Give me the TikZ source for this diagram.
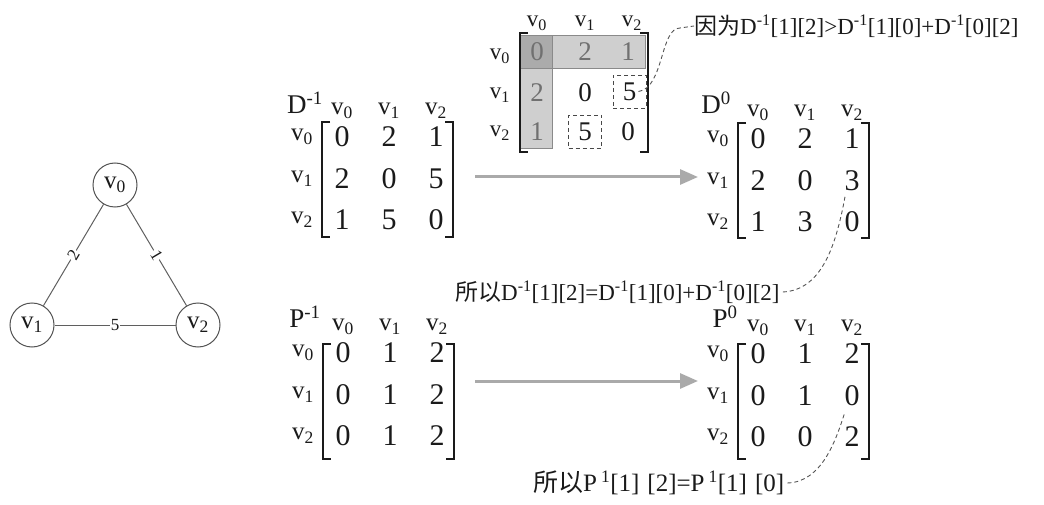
\documentclass[tikz,border=0pt]{standalone}
\usepackage{fontspec}
\setmainfont{Liberation Serif}
\newfontfamily\cjk{Noto Sans CJK SC}
\usetikzlibrary{arrows.meta,calc}
\definecolor{ink}{HTML}{1A1A1A}
\definecolor{arrowgray}{HTML}{AAAAAA}
\definecolor{shadefill}{HTML}{CFCFCF}
\definecolor{shadedark}{HTML}{ABABAB}
\definecolor{shadeline}{HTML}{8A8A8A}
\definecolor{graytext}{HTML}{707070}
\newcommand\drawmat[5]{%
  \foreach \k in {0,1,2} {
    \node[vlab] (#1h\k) at (#2+47*\k,#3-26) {v\textsubscript{\k}};
    \node[vlab] (#1r\k) at (#2-40,#3+41.5*\k) {v\textsubscript{\k}};
  }
  \foreach \v [count=\i from 0] in {#4} {
    \pgfmathtruncatemacro\mrow{\i/3}
    \pgfmathtruncatemacro\mcol{mod(\i,3)}
    \node[ent] (#1e\mrow\mcol) at (#2+47*\mcol,#3+41.5*\mrow) {\v};
  }
  \draw[brk] (#2-12,#3-15+#5) -- (#2-20,#3-15+#5) -- (#2-20,#3+100+#5) -- (#2-12,#3+100+#5);
  \draw[brk] (#2+103,#3-15+#5) -- (#2+111,#3-15+#5) -- (#2+111,#3+100+#5) -- (#2+103,#3+100+#5);
}
\begin{document}
\begin{tikzpicture}[x=1pt,y=-1pt,
  ent/.style={font=\fontsize{30}{30}\selectfont, inner sep=0pt, text=ink},
  sent/.style={font=\fontsize{27}{27}\selectfont, inner sep=0pt, text=ink},
  vlab/.style={font=\fontsize{25}{25}\selectfont, inner sep=0pt, text=ink},
  svlab/.style={font=\fontsize{23}{23}\selectfont, inner sep=0pt, text=ink},
  ttl/.style={font=\fontsize{27}{27}\selectfont, inner sep=0pt, text=ink},
  brk/.style={line width=1.8pt, draw=ink},
  garrow/.style={draw=arrowgray, line width=3pt, -{Triangle[length=18pt,width=15pt]}},
  dconn/.style={draw=ink!75, dash pattern=on 4pt off 3pt, line width=0.9pt},
  dbox/.style={draw=ink!80, dash pattern=on 4pt off 3pt, line width=0.9pt, minimum width=33pt, minimum height=33pt},
  note/.style={font=\fontsize{23}{23}\selectfont, inner sep=0pt, anchor=west, text=ink},
  vert/.style={circle, draw=ink!75, line width=1pt, minimum size=44pt, inner sep=0pt, font=\fontsize{25}{25}\selectfont, text=ink},
  gedge/.style={draw=ink!70, line width=1pt},
  elab/.style={font=\fontsize{17}{17}\selectfont, fill=white, inner sep=1pt, text=ink},
  shade/.style={fill=shadefill, draw=shadeline, line width=0.8pt},
  ]
\useasboundingbox (0,0) rectangle (1044,505);

% ---- graph ----
\node[vert] (g0) at (115,185) {v\textsubscript{0}};
\node[vert] (g1) at (32,325) {v\textsubscript{1}};
\node[vert] (g2) at (198,325) {v\textsubscript{2}};
\draw[gedge] (g1) -- node[elab, sloped] {2} (g0);
\draw[gedge] (g0) -- node[elab, sloped] {1} (g2);
\draw[gedge] (g1) -- node[elab] {5} (g2);

% ---- top highlighted matrix ----
\path[shade] (520,35) rectangle (645,68);
\path[shade] (520,35) rectangle (552,148);
\path[fill=shadedark] (520.4,35.4) rectangle (551.6,67.6);
\draw[shadeline, line width=0.8pt] (520,35) rectangle (645,68);
\draw[shadeline, line width=0.8pt] (520,35) rectangle (552,148);
\node[svlab] (th0) at (537,23) {v\textsubscript{0}};
\node[svlab] (th1) at (585,23) {v\textsubscript{1}};
\node[svlab] (th2) at (632,23) {v\textsubscript{2}};
\node[svlab] (tr0) at (500,56) {v\textsubscript{0}};
\node[svlab] (tr1) at (500,95) {v\textsubscript{1}};
\node[svlab] (tr2) at (500,133) {v\textsubscript{2}};
\node[sent, text=graytext] (te00) at (537,52) {0};
\node[sent, text=graytext] (te01) at (585,52) {2};
\node[sent, text=graytext] (te02) at (628,52) {1};
\node[sent, text=graytext] (te10) at (537,93) {2};
\node[sent] (te11) at (585,93) {0};
\node[sent, dbox] (te12) at (629.5,91.5) {5};
\node[sent, text=graytext] (te20) at (537,132) {1};
\node[sent, dbox] (te21) at (585,131.5) {5};
\node[sent] (te22) at (628,132) {0};
\draw[brk] (528,33) -- (520,33) -- (520,152) -- (528,152);
\draw[brk] (640,33) -- (648,33) -- (648,152) -- (640,152);

\node[note] (because) at (694,26) {{\cjk 因为}D\textsuperscript{-1}[1][2]>D\textsuperscript{-1}[1][0]+D\textsuperscript{-1}[0][2]};
\draw[dconn] ([xshift=-8pt]te12.east) .. controls (664,88) and (660,28) .. (680,28) -- (because.west);

% ---- D matrices ----
\node[ttl] (dAt) at (305,103) {D\textsuperscript{-1}};
\drawmat{dA}{342}{137}{0,2,1,2,0,5,1,5,0}{0}
\node[ttl] (dBt) at (716,103) {D\textsuperscript{0}};
\drawmat{dB}{758}{139}{0,2,1,2,0,3,1,3,0}{-1}
\coordinate (ad1) at (475,177);
\coordinate (ad2) at (698,177);
\draw[garrow] (ad1) -- (ad2);

\node[note] (so1) at (455,292) {{\cjk 所以}D\textsuperscript{-1}[1][2]=D\textsuperscript{-1}[1][0]+D\textsuperscript{-1}[0][2]};
\draw[dconn] ([xshift=3pt]so1.east) .. controls (822,290) and (836,245) .. ($(dBe12.south)+(-7,6)$);

% ---- P matrices ----
\node[ttl] (pAt) at (305,317) {P\textsuperscript{-1}};
\drawmat{pA}{343}{353}{0,1,2,0,1,2,0,1,2}{6}
\node[ttl] (pBt) at (725,317) {P\textsuperscript{0}};
\drawmat{pB}{758}{354}{0,1,2,0,1,0,0,0,2}{5}
\coordinate (ap1) at (475,381);
\coordinate (ap2) at (698,381);
\draw[garrow] (ap1) -- (ap2);

\node[note, font=\fontsize{25}{25}\selectfont] (so2) at (533,483) {{\cjk 所以}P\hspace{4pt}\textsuperscript{1}[1]\hspace{8pt}[2]=P\hspace{4pt}\textsuperscript{1}[1]\hspace{8pt}[0]};
\draw[dconn] ([xshift=3pt]so2.east) .. controls (822,482) and (836,440) .. ($(pBe12.south)+(-7,6)$);
\end{tikzpicture}
\end{document}
